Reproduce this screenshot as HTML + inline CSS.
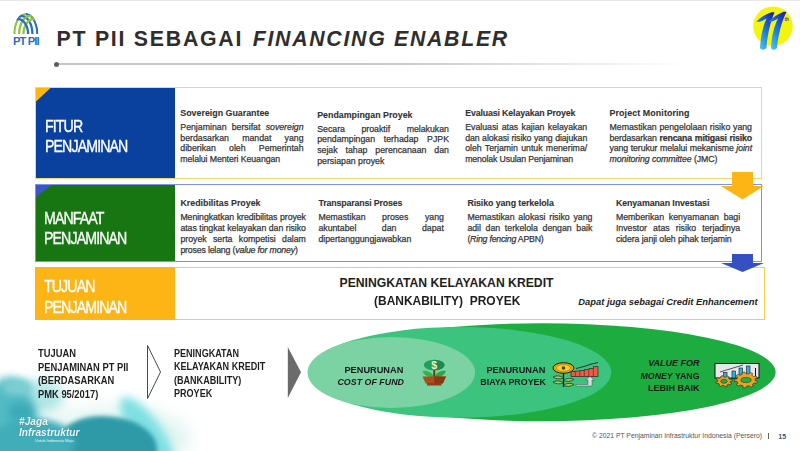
<!DOCTYPE html>
<html><head><meta charset="utf-8">
<style>
*{margin:0;padding:0;box-sizing:border-box}
html,body{width:800px;height:451px;overflow:hidden;background:#fff}
body{position:relative;font-family:"Liberation Sans",sans-serif;color:#333}
.abs{position:absolute}
.topband{left:0;top:0;width:800px;height:1px;background:#e8e8e8}
.title{left:56.5px;top:27px;font-size:21.3px;font-weight:bold;letter-spacing:1.75px;color:#2e2e2e;white-space:nowrap;line-height:24px}
.title i{font-style:italic;margin-left:2px;letter-spacing:1.7px}
.tline{left:57px;top:63px;width:630px;height:2px;background:linear-gradient(90deg,#c6c6c6 0%,#cacaca 55%,rgba(240,240,240,0) 100%)}
.tdot{left:53.8px;top:61.5px;width:5px;height:5px;border-radius:50%;background:#5e5e5e}
.box{position:absolute}
.lab{position:absolute;left:0;top:0;bottom:0;width:140px;color:#fff}
.tri{position:absolute;left:0;top:0;width:0;height:0}
.ltxt{position:absolute;color:#fff;left:10px;font-size:16px;line-height:20px;white-space:nowrap;transform-origin:0 0;letter-spacing:-1.0px;transform:scaleX(0.885);-webkit-text-stroke:0.35px #fff}
.col{position:absolute;font-size:8.75px;line-height:10.7px;color:#363636;-webkit-text-stroke:0.25px #363636}
.col h4{font-size:8.85px;font-weight:bold;color:#333;-webkit-text-stroke:0.1px #333;line-height:11px;margin-bottom:2.9px;white-space:nowrap}
.col .j{text-align:justify;text-align-last:justify;white-space:nowrap;display:block;height:10.7px}
.col .l{white-space:nowrap;display:block;height:10.7px}
.col.r2 .j,.col.r2 .l{height:10.9px}
.col.r2 h4{margin-bottom:3.5px}
.bt{position:absolute;font-size:10px;font-weight:bold;color:#1e1e1e;line-height:13.6px;white-space:nowrap;transform:scaleX(0.92);transform-origin:0 0}
.el{position:absolute;font-size:9.6px;font-weight:bold;color:#1a1a1a;line-height:10px;white-space:nowrap;transform-origin:100% 0}
</style></head><body>
<div class="abs topband"></div>

<!-- logo -->
<svg class="abs" style="left:12px;top:12px" width="30" height="36" viewBox="0 0 30 36">
  <defs><clipPath id="lc"><ellipse cx="13.8" cy="22" rx="12.6" ry="21"/></clipPath></defs>
  <g fill="none" stroke-width="2.3" clip-path="url(#lc)" stroke-linejoin="round">
    <path d="M2.30 22.00 L2.32 20.69 L2.40 19.39 L2.52 18.10 L2.69 16.82 L2.91 15.57 L3.18 14.35 L3.49 13.15 L3.84 12.00 L4.24 10.89 L4.68 9.82 L5.15 8.81 L5.67 7.86 L6.22 6.96 L6.80 6.13 L7.41 5.37 L8.05 4.68 L8.71 4.06 L9.40 3.52 L10.10 3.06 L10.82 2.68 L11.56 2.38 L12.30 2.17 L13.05 2.04 L13.80 2.00" stroke="#8cc63f"/>
    <path d="M13.80 2.00 L14.55 2.04 L15.30 2.17 L16.04 2.38 L16.78 2.68 L17.50 3.06 L18.20 3.52 L18.89 4.06 L19.55 4.68 L20.19 5.37 L20.80 6.13 L21.38 6.96 L21.93 7.86 L22.45 8.81 L22.92 9.82 L23.36 10.89 L23.76 12.00 L24.11 13.15 L24.42 14.35 L24.69 15.57 L24.91 16.82 L25.08 18.10 L25.20 19.39 L25.28 20.69 L25.30 22.00" stroke="#2b6cc4"/>
    <path d="M7.20 22.00 L7.24 20.43 L7.36 18.87 L7.57 17.34 L7.85 15.84 L8.21 14.39 L8.65 13.00 L9.15 11.68 L9.73 10.43 L10.36 9.27 L11.06 8.21 L11.81 7.26 L12.60 6.41 L13.44 5.69 L14.31 5.09 L15.20 4.61 L16.12 4.27 L17.06 4.07 L18.00 4.00 L18.94 4.07 L19.88 4.27 L20.80 4.61 L21.69 5.09 L22.56 5.69 L23.40 6.41" stroke="#8cc63f"/>
    <path d="M20.40 22.00 L20.36 20.43 L20.24 18.87 L20.03 17.34 L19.75 15.84 L19.39 14.39 L18.95 13.00 L18.45 11.68 L17.87 10.43 L17.24 9.27 L16.54 8.21 L15.79 7.26 L15.00 6.41 L14.16 5.69 L13.29 5.09 L12.40 4.61 L11.48 4.27 L10.54 4.07 L9.60 4.00 L8.66 4.07 L7.72 4.27 L6.80 4.61 L5.91 5.09 L5.04 5.69 L4.20 6.41" stroke="#2b6cc4"/>
    <path d="M11.50 22.00 L11.53 20.80 L11.63 19.61 L11.80 18.43 L12.02 17.28 L12.31 16.16 L12.66 15.07 L13.07 14.03 L13.54 13.04 L14.06 12.11 L14.62 11.24 L15.24 10.44 L15.89 9.71 L16.59 9.06 L17.31 8.50 L18.07 8.02 L18.85 7.63 L19.64 7.33 L20.46 7.13 L21.28 7.02 L22.10 7.01 L22.92 7.09 L23.74 7.27 L24.54 7.54 L25.32 7.90" stroke="#8cc63f"/>
    <path d="M16.10 22.00 L16.07 20.80 L15.97 19.61 L15.80 18.43 L15.58 17.28 L15.29 16.16 L14.94 15.07 L14.53 14.03 L14.06 13.04 L13.54 12.11 L12.98 11.24 L12.36 10.44 L11.71 9.71 L11.01 9.06 L10.29 8.50 L9.53 8.02 L8.75 7.63 L7.96 7.33 L7.14 7.13 L6.32 7.02 L5.50 7.01 L4.68 7.09 L3.86 7.27 L3.06 7.54 L2.28 7.90" stroke="#2b6cc4"/>
    <path d="M12.93 6.11 L13.05 6.00 L13.18 5.89 L13.31 5.79 L13.44 5.69 L13.56 5.59 L13.69 5.49 L13.82 5.40 L13.95 5.31 L14.09 5.22 L14.22 5.14 L14.35 5.06 L14.48 4.98 L14.62 4.91 L14.75 4.83 L14.89 4.76 L15.02 4.70 L15.16 4.63 L15.30 4.57 L15.43 4.52 L15.57 4.46 L15.71 4.41 L15.85 4.36 L15.99 4.32 L16.12 4.27" stroke="#8cc63f"/>
  </g>
  <text x="1.0" y="32.6" font-family="Liberation Sans" font-weight="bold" font-size="11.2" fill="#2b6cc4" letter-spacing="-0.9">PT PII</text>
</svg>

<div class="abs title">PT PII SEBAGAI <i>FINANCING ENABLER</i></div>
<div class="abs tline"></div>
<div class="abs tdot"></div>

<!-- 11th logo -->
<svg class="abs" style="left:750px;top:4px" width="46" height="48" viewBox="0 0 46 48">
  <circle cx="23" cy="22.2" r="19.8" fill="#f4f40c"/>
  <defs><linearGradient id="g11" x1="0.9" y1="0" x2="0.1" y2="1"><stop offset="0" stop-color="#1a1ab8"/><stop offset="0.5" stop-color="#1c7ad6"/><stop offset="1" stop-color="#50cdf0"/></linearGradient></defs>
  <path d="M6.5 17.5 C10 14 16 10 21.5 8.3 L24.5 8.3 C20.5 18 17.5 30 16.5 43.5 C15.5 46 11 46.5 10 44 C10.5 32 13.5 21 16.5 14.5 C13 16.5 10 18.5 6.5 17.5Z" fill="url(#g11)"/>
  <path d="M18.5 17.5 C22.5 14 28 10 33.5 7.8 L36.5 7.8 C31.5 18 28.5 30 27 43.5 C26 46 22 46.5 21 44 C21.5 32 24.5 21 28 14.5 C24.5 16.5 21.5 18.5 18.5 17.5Z" fill="url(#g11)"/>
  <text x="34.5" y="16.5" font-size="4.5" font-weight="bold" font-family="Liberation Sans" fill="#2a3aa0">th</text>
</svg>

<!-- ROW 1 -->
<div class="box" style="left:34.5px;top:87px;width:727.5px;height:92px;border:1.5px solid #f9d46e;"></div>
<div class="box" style="left:35.8px;top:88.3px;width:139.2px;height:89.7px;background:#0a409e;"></div>
<svg class="abs" style="left:35.8px;top:88.3px" width="16" height="15"><path d="M0 0 H14.5 L0 13.5 Z" fill="#fbb614"/></svg>
<div class="abs ltxt" style="left:44.7px;top:116.5px">FITUR</div>
<div class="abs ltxt" style="left:44.7px;top:136.5px">PENJAMINAN</div>

<div class="col" style="left:180.3px;top:108.0px;width:123.3px">
  <h4>Sovereign Guarantee</h4>
  <span class="j">Penjaminan bersifat <i>sovereign</i></span>
  <span class="j">berdasarkan mandat yang</span>
  <span class="j">diberikan oleh Pemerintah</span>
  <span class="l" style="letter-spacing:-0.08px">melalui Menteri Keuangan</span>
</div>
<div class="col" style="left:317.2px;top:109.7px;width:131.8px">
  <h4>Pendampingan Proyek</h4>
  <span class="j">Secara proaktif melakukan</span>
  <span class="j">pendampingan terhadap PJPK</span>
  <span class="j">sejak tahap perencanaan dan</span>
  <span class="l">persiapan proyek</span>
</div>
<div class="col" style="left:465.2px;top:108.0px;width:122px">
  <h4 style="letter-spacing:-0.16px">Evaluasi Kelayakan Proyek</h4>
  <span class="j">Evaluasi atas kajian kelayakan</span>
  <span class="j" style="letter-spacing:-0.07px">dan alokasi risiko yang diajukan</span>
  <span class="j">oleh Terjamin untuk menerima/</span>
  <span class="l" style="letter-spacing:-0.14px">menolak Usulan Penjaminan</span>
</div>
<div class="col" style="left:609.5px;top:108.1px;width:142.5px">
  <h4 style="letter-spacing:0.11px">Project Monitoring</h4>
  <span class="j">Memastikan pengelolaan risiko yang</span>
  <span class="j" style="letter-spacing:-0.13px">berdasarkan <b>rencana mitigasi risiko</b></span>
  <span class="j" style="letter-spacing:-0.08px">yang terukur melalui mekanisme <i>joint</i></span>
  <span class="l" style="letter-spacing:-0.08px"><i>monitoring committee</i> (JMC)</span>
</div>


<!-- ROW 2 -->
<div class="box" style="left:35px;top:184px;width:727px;height:77.5px;border:1.5px solid #7f93e6;"></div>
<div class="box" style="left:36px;top:185px;width:139px;height:75.5px;background:#177512;"></div>
<svg class="abs" style="left:36px;top:185px" width="16" height="13"><path d="M0 0 H15.5 L0 12 Z" fill="#3e55c8"/></svg>
<div class="abs ltxt" style="left:43.5px;top:209.2px">MANFAAT</div>
<div class="abs ltxt" style="left:43.5px;top:229.2px">PENJAMINAN</div>

<div class="col r2" style="left:180.4px;top:197.6px;width:125.5px">
  <h4>Kredibilitas Proyek</h4>
  <span class="j" style="letter-spacing:-0.06px">Meningkatkan kredibilitas proyek</span>
  <span class="j" style="letter-spacing:-0.05px">atas tingkat kelayakan dan risiko</span>
  <span class="j">proyek serta kompetisi dalam</span>
  <span class="l" style="letter-spacing:-0.17px">proses lelang (<i>value for money</i>)</span>
</div>
<div class="col r2" style="left:318.4px;top:197.6px;width:125.5px">
  <h4 style="letter-spacing:-0.16px">Transparansi Proses</h4>
  <span class="j">Memastikan proses yang</span>
  <span class="j">akuntabel dan dapat</span>
  <span class="l">dipertanggungjawabkan</span>
</div>
<div class="col r2" style="left:467.4px;top:197.6px;width:125px">
  <h4 style="letter-spacing:-0.1px">Risiko yang terkelola</h4>
  <span class="j">Memastikan alokasi risiko yang</span>
  <span class="j">adil dan terkelola dengan baik</span>
  <span class="l" style="letter-spacing:-0.22px">(<i>Ring fencing</i> APBN)</span>
</div>
<div class="col r2" style="left:615.9px;top:197.5px;width:124.3px">
  <h4 style="letter-spacing:-0.1px">Kenyamanan Investasi</h4>
  <span class="j">Memberikan kenyamanan bagi</span>
  <span class="j">Investor atas risiko terjadinya</span>
  <span class="l" style="letter-spacing:-0.06px">cidera janji oleh pihak terjamin</span>
</div>


<!-- ROW 3 -->
<div class="box" style="left:35px;top:267px;width:729.5px;height:52.5px;border:1.5px solid #f9cc4e;"></div>
<div class="box" style="left:35px;top:267px;width:140px;height:52.5px;background:#fdb515;"></div>
<div class="abs ltxt" style="left:44.4px;top:276.8px">TUJUAN</div>
<div class="abs ltxt" style="left:44.4px;top:297.5px">PENJAMINAN</div>
<div class="abs" style="left:339.5px;top:274px;font-size:12.2px;font-weight:bold;color:#1e1e1e;white-space:nowrap;line-height:18px">PENINGKATAN KELAYAKAN KREDIT</div>
<div class="abs" style="left:374.3px;top:292px;font-size:12.2px;font-weight:bold;color:#1e1e1e;white-space:nowrap;line-height:18px;transform:scaleX(0.982);transform-origin:0 0">(BANKABILITY)&nbsp; PROYEK</div>
<div class="abs" style="left:578.3px;top:296px;font-size:9.4px;font-weight:bold;font-style:italic;color:#1e1e1e;white-space:nowrap;line-height:11px">Dapat juga sebagai Credit Enhancement</div>

<!-- arrow 1 -->
<svg class="abs" style="left:720px;top:171px" width="46" height="30"><path d="M12 1 H33 V15 H44 L22.5 28.5 L1 15 H12 Z" fill="#fdb515"/></svg>
<!-- arrow 2 -->
<svg class="abs" style="left:720px;top:253px" width="46" height="21"><path d="M12 1 H33 V10 H44 L22.5 19 L1 10 H12 Z" fill="#3450c2"/></svg>

<!-- bottom watercolor -->
<div class="abs" style="left:0;top:340px;width:260px;height:111px;overflow:hidden">
  <div class="abs" style="left:40px;top:68px;width:150px;height:60px;border-radius:50%;background:#dcf4ef;filter:blur(9px)"></div>
  <div class="abs" style="left:133px;top:50px;width:28px;height:84px;border-radius:50%;background:#7fe0e3;filter:blur(4px);transform:rotate(-36deg)"></div>
  <div class="abs" style="left:14px;top:40px;width:50px;height:34px;border-radius:50%;background:#b2e6e6;filter:blur(6px)"></div>
  <div class="abs" style="left:-22px;top:38px;width:60px;height:110px;border-radius:50%;background:#52bcc5;filter:blur(5px)"></div>
  <div class="abs" style="left:2px;top:38px;width:30px;height:18px;border-radius:50%;background:#7acdd2;filter:blur(3px)"></div>
  <div class="abs" style="left:8px;top:62px;width:26px;height:20px;border-radius:50%;background:#3aa9b6;filter:blur(4px)"></div>
  <div class="abs" style="left:57px;top:76px;width:100px;height:60px;border-radius:45% 55% 0 0;background:#2e9aa8;filter:blur(2px)"></div>
  <div class="abs" style="left:-10px;top:78px;width:85px;height:50px;border-radius:50%;background:#40adb9;filter:blur(3px)"></div>
</div>
<div class="abs" style="left:18.5px;top:416px;font-size:10.5px;font-weight:bold;font-style:italic;color:#fff;line-height:10.5px;white-space:nowrap;opacity:.92;transform:scaleX(0.97);transform-origin:0 0;text-shadow:0 0 1px rgba(0,60,80,.5)">#Jaga<br>Infrastruktur</div>
<div class="abs" style="left:35px;top:438px;font-size:4px;color:#e8f8f8;white-space:nowrap">Untuk Indonesia Maju</div>

<!-- bottom texts -->
<div class="bt" style="left:38.2px;top:347.2px;transform:scaleX(0.935)">TUJUAN<br>PENJAMINAN PT PII<br>(BERDASARKAN<br>PMK 95/2017)</div>
<svg class="abs" style="left:145px;top:344px" width="18" height="57"><path d="M2.5 1.5 V54.5 L15.5 28 Z" fill="none" stroke="#4a4a4a" stroke-width="1"/></svg>
<div class="bt" style="left:173.6px;top:346.5px;transform:scaleX(0.905)">PENINGKATAN<br>KELAYAKAN KREDIT<br>(BANKABILITY)<br>PROYEK</div>
<svg class="abs" style="left:287px;top:346px" width="15" height="53"><path d="M0.8 1 V52 L14 26.3 Z" fill="#6b6b6b"/></svg>

<!-- ellipses -->
<svg class="abs" style="left:0;top:0" width="800" height="451">
  <ellipse cx="541.8" cy="372.3" rx="233.8" ry="49" fill="#1cac40"/>
  <ellipse cx="459.7" cy="372.3" rx="151.6" ry="45.3" fill="#3cc47e"/>
  <ellipse cx="391.3" cy="372.5" rx="83.8" ry="35.5" fill="#7bd2a3"/>
</svg>


<div class="el" style="right:396.5px;top:364.7px;transform:scaleX(0.96)">PENURUNAN</div>
<div class="el" style="right:396px;top:376.7px;transform:scaleX(0.925);font-style:italic">COST OF FUND</div>
<div class="el" style="right:254.5px;top:364.7px;transform:scaleX(0.96)">PENURUNAN</div>
<div class="el" style="right:254.5px;top:376.7px;transform:scaleX(0.925)">BIAYA PROYEK</div>
<div class="el" style="right:100.5px;top:358.4px;font-size:9px;transform:scaleX(1.0);font-style:italic">VALUE FOR</div>
<div class="el" style="right:100.5px;top:370.9px;font-size:9px;transform:scaleX(0.975)"><i>MONEY</i> YANG</div>
<div class="el" style="right:100.5px;top:383.4px;font-size:9px;transform:scaleX(1.0)">LEBIH BAIK</div>

<!-- icons -->
<svg class="abs" style="left:420px;top:358px" width="30" height="30" viewBox="0 0 30 30">
  <ellipse cx="14.2" cy="7" rx="10.4" ry="5.2" fill="#1f9e5c"/>
  <path d="M14.2 1.8 A10.4 5.2 0 0 1 14.2 12.2Z" fill="#1a8a50"/>
  <text x="14.2" y="11" text-anchor="middle" font-family="Liberation Sans" font-weight="bold" font-size="10.5" fill="#f2f0b8">$</text>
  <path d="M2.5 13 C7 12 12 14 14.2 19.5 C9 19.5 4.5 18 2.5 13Z" fill="#2fb84a"/>
  <path d="M26 13 C21.5 12 16.5 14 14.2 19.5 C19.5 19.5 24 18 26 13Z" fill="#26a843"/>
  <rect x="13.2" y="12" width="2" height="8" fill="#6a3a20"/>
  <path d="M2.5 18.5 H26 L22.8 25.5 H5.7 Z" fill="#ad4e1e"/>
  <path d="M14.2 18.5 H26 L22.8 25.5 H14.2 Z" fill="#8a3812"/>
  <rect x="7" y="25" width="14.5" height="2.5" fill="#8f3e15"/>
</svg>

<svg class="abs" style="left:551px;top:361px" width="50" height="28" viewBox="0 0 50 28">
  <ellipse cx="12.5" cy="7" rx="10.5" ry="5.3" fill="#e2a812" stroke="#2a2000" stroke-width="1"/>
  <ellipse cx="12.5" cy="7" rx="7" ry="3.4" fill="#f6d030" stroke="#8a6a00" stroke-width=".5"/>
  <circle cx="12.5" cy="7" r="1.8" fill="#4a3a10"/>
  <path d="M12.5 12 V26" stroke="#111" stroke-width="1.3"/>
  <path d="M2 16 C6 14 10 15 12.5 17 C8 18.5 5 18 2 16Z" fill="#9ad04c" stroke="#222" stroke-width=".7"/>
  <path d="M2 21 C6 19 10 20 12.5 22 C8 23.5 5 23 2 21Z" fill="#9ad04c" stroke="#222" stroke-width=".7"/>
  <path d="M23 18.5 C19 16.5 15 17.5 12.5 19.5 C16 21 20 20.5 23 18.5Z" fill="#9ad04c" stroke="#222" stroke-width=".7"/>
  <path d="M23 23.5 C19 21.5 15 22.5 12.5 24.5 C16 26 20 25.5 23 23.5Z" fill="#9ad04c" stroke="#222" stroke-width=".7"/>
  <path d="M20 15.5 V10.5 H24.5 V10 H29 V9.5 H33.5 V8.5 H38 V7.5 H42.5 V5.5 H47 V15.5 Z" fill="#f25a48" stroke="#222" stroke-width=".7"/>
  <g stroke="#7a2a20" stroke-width=".8"><path d="M24.3 10.5V15.5M28.8 10V15.5M33.3 9.5V15.5M37.8 8.5V15.5M42.3 7.5V15.5"/></g>
  <path d="M25 7.5 L33 5.5 L40 3.2 L47 1.5" stroke="#222" stroke-width=".9" fill="none"/>
  <path d="M25 23.5 H37 V19 H34.5 L39 15.5 L43.5 19 H41 V25 H25Z" fill="#d8dce4" stroke="#333" stroke-width=".4"/>
</svg>

<svg class="abs" style="left:713px;top:362px" width="48" height="28" viewBox="0 0 48 28">
  <rect x="2" y="1.5" width="44" height="14.5" fill="#e8e8ec" stroke="#111" stroke-width="1"/>
  <g fill="#2ab4e6" stroke="#111" stroke-width=".6">
    <rect x="10.5" y="10.5" width="3.5" height="5.5"/><rect x="19" y="9" width="3.5" height="7"/><rect x="26" y="6" width="3.5" height="10"/><rect x="33.5" y="4" width="3.5" height="12"/>
  </g>
  <path d="M7 10 L30 3" stroke="#111" stroke-width=".7"/>
  <path d="M42.5 6 V15" stroke="#111" stroke-width="1"/>
  <path d="M17.08 20.55 L18.76 21.45 L17.55 22.81 L15.56 22.26 L13.97 23.05 L14.20 24.48 L11.91 24.87 L11.09 23.54 L9.12 23.35 L7.77 24.47 L5.74 23.66 L6.57 22.34 L5.37 21.28 L3.23 21.44 L2.65 19.91 L4.64 19.36 L4.92 18.05 L3.24 17.15 L4.45 15.79 L6.44 16.34 L8.03 15.55 L7.80 14.12 L10.09 13.73 L10.91 15.06 L12.88 15.25 L14.23 14.13 L16.26 14.94 L15.43 16.26 L16.63 17.32 L18.77 17.16 L19.35 18.69 L17.36 19.24Z" fill="#f0a21e" stroke="#222" stroke-width=".6"/>
  <path d="M42.15 18.62 L44.53 19.45 L43.64 21.35 L40.99 21.09 L39.42 22.47 L40.46 24.14 L37.97 25.21 L36.19 23.85 L33.69 24.22 L32.89 25.96 L29.98 25.69 L29.89 23.87 L27.63 23.07 L25.38 24.05 L23.40 22.57 L25.05 21.15 L24.08 19.54 L21.43 19.31 L21.31 17.32 L23.93 16.95 L24.71 15.29 L22.90 13.96 L24.70 12.38 L27.05 13.24 L29.22 12.31 L29.09 10.50 L31.96 10.08 L32.96 11.76 L35.49 11.99 L37.11 10.55 L39.72 11.48 L38.88 13.20 L40.60 14.49 L43.21 14.09 L44.33 15.93 L42.05 16.89Z" fill="#f0a21e" stroke="#222" stroke-width=".6"/>
  <ellipse cx="11" cy="19.3" rx="3.2" ry="2" fill="#1fae48" stroke="#222" stroke-width=".5"/>
  <ellipse cx="33" cy="18" rx="5.2" ry="2.6" fill="#1fae48" stroke="#222" stroke-width=".5"/>
</svg>

<!-- footer -->
<div class="abs" style="left:592px;top:432px;font-size:6.8px;color:#555;white-space:nowrap;line-height:8px">© 2021 PT Penjaminan Infrastruktur Indonesia (Persero)</div>
<div class="abs" style="left:768.3px;top:433px;width:1px;height:6px;background:#666"></div>
<div class="abs" style="left:778.3px;top:433px;font-size:7px;font-weight:bold;color:#44557a;white-space:nowrap;line-height:8px">15</div>
</body></html>
